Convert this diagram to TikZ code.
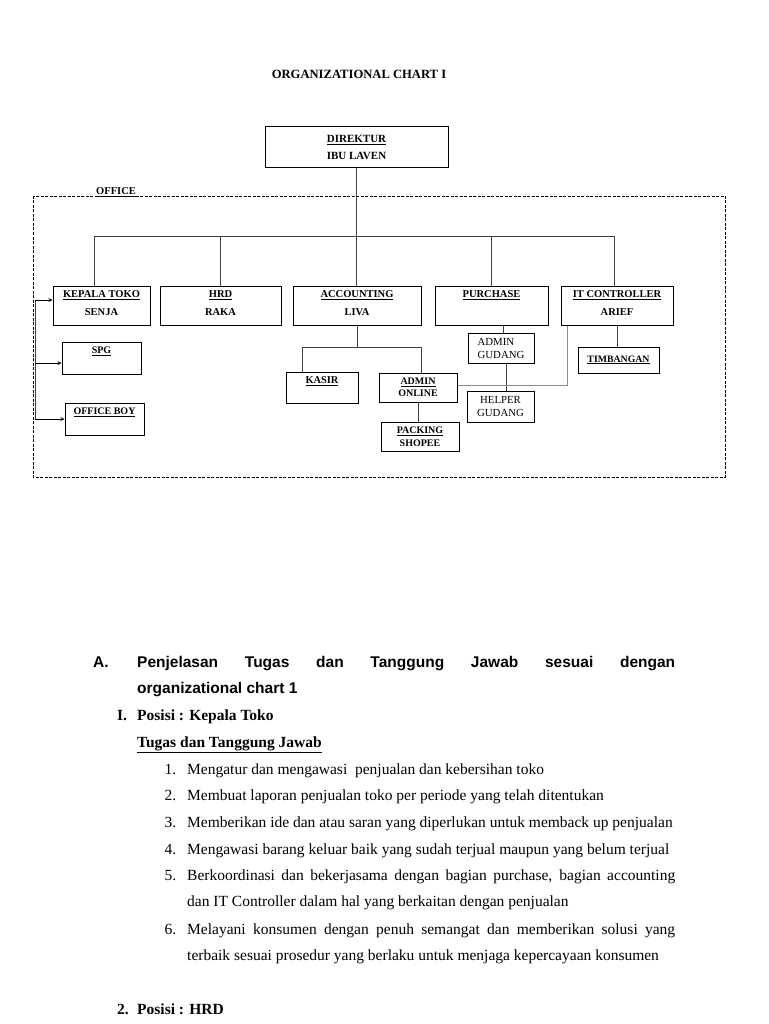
\documentclass[tikz,border=0pt]{standalone}
\usepackage{fontspec}
\setmainfont{Liberation Serif}
\newfontfamily\headfont{Liberation Sans}
\usetikzlibrary{arrows, positioning}
\tikzstyle{arrow} = [line width=0.8pt,->,>=stealth]
\tikzstyle{link} = [line width=0.8pt, draw=black!75]
\tikzstyle{post} = [rectangle, draw=black, line width=1pt, inner sep=0pt, align=center, font=\fontsize{10.5}{18}\selectfont\bfseries]
\tikzstyle{staff} = [post, font=\fontsize{10}{12}\selectfont\bfseries]
\tikzstyle{plain} = [post, font=\fontsize{10.8}{13}\selectfont]
\tikzstyle{body} = [anchor=base west, inner sep=0pt, font=\fontsize{15.5}{26.6}\selectfont]
\tikzstyle{bodybold} = [body, font=\fontsize{15.5}{26.6}\selectfont\bfseries]
\tikzstyle{itemtext} = [body, text width=488pt, align=justify]

\begin{document}
\begin{tikzpicture}[x=1pt, y={(0pt,-1pt)}]
\useasboundingbox (0,0) rectangle (768,1024);

% Title and office frame
\node (title) [font=\fontsize{12.6}{14}\selectfont\bfseries] at (359,74) {ORGANIZATIONAL CHART I};
\draw [line width=0.8pt, dash pattern=on 3pt off 1.5pt] (33,196) rectangle (725,477);
\node (office) [inner sep=0pt, anchor=base, font=\fontsize{10.5}{12}\selectfont\bfseries] at (116,195) {\underline{OFFICE}};

% Placement of chart nodes
\node (dir) [post, minimum width=183pt, minimum height=41pt, font=\fontsize{11}{17}\selectfont\bfseries] at (356.5,147.5) {\underline{DIREKTUR}\\IBU LAVEN};

\node (kep) [post, minimum width=97pt, minimum height=39pt, text depth=5pt] at (101.5,305.5) {\underline{KEPALA TOKO}\\SENJA};
\node (hrd) [post, minimum width=121pt, minimum height=39pt, text depth=5pt] at (220.5,305.5) {\underline{HRD}\\RAKA};
\node (acc) [post, minimum width=128pt, minimum height=39pt, text depth=5pt] at (357,305.5) {\underline{ACCOUNTING}\\LIVA};
\node (pur) [post, minimum width=113pt, minimum height=39pt, text depth=5pt] at (491.5,305.5) {\underline{PURCHASE}\\ \mbox{}};
\node (itc) [post, minimum width=112pt, minimum height=39pt, text depth=5pt] at (617,305.5) {\underline{IT CONTROLLER}\\ARIEF};

\node (spg) [post, minimum width=79pt, minimum height=32pt, font=\fontsize{10}{16}\selectfont\bfseries] at (101.5,358) {\underline{SPG}\\ \mbox{}};
\node (ob) [post, minimum width=79pt, minimum height=32pt, font=\fontsize{10}{16}\selectfont\bfseries] at (104.5,419) {\underline{OFFICE BOY}\\ \mbox{}};

\node (kasir) [post, minimum width=72pt, minimum height=31pt, font=\fontsize{10.4}{14}\selectfont\bfseries] at (322,387.5) {\underline{KASIR}\\ \mbox{}};
\node (adon) [staff, minimum width=78pt, minimum height=29pt] at (418,387.5) {\underline{ADMIN}\\ONLINE};
\node (pack) [staff, minimum width=78pt, minimum height=29pt, font=\fontsize{10}{13}\selectfont\bfseries] at (420,436.5) {\underline{PACKING}\\SHOPEE};

\node (adgud) [plain, minimum width=66pt, minimum height=30pt, align=left] at (501,348) {ADMIN\\GUDANG};
\node (helper) [plain, minimum width=67pt, minimum height=31pt] at (500.5,406.5) {HELPER\\GUDANG};
\node (timb) [post, minimum width=81pt, minimum height=26pt, font=\fontsize{9.8}{12}\selectfont\bfseries] at (618.5,360) {\underline{TIMBANGAN}};

% Drawing of lines of main chart
\coordinate (bus) at (0,236);
\coordinate (kepIn) at ([xshift=-7.5pt]kep.north);
\coordinate (itcIn) at ([xshift=-3pt]itc.north);
\draw [link] (dir.south) -- (dir.south |- acc.north);
\draw [link] (kepIn) |- (bus -| itcIn) -- (itcIn);
\draw [link] (hrd.north) -- (hrd.north |- bus);
\draw [link] (pur.north) -- (pur.north |- bus);

% Accounting branch
\draw [link] (acc.south) -- ++(0,22) coordinate (accBus);
\coordinate (kasIn) at ([xshift=-20pt]kasir.north);
\coordinate (adoIn) at ([xshift=3pt]adon.north);
\draw [link] (kasIn) |- (accBus) -| (adoIn);
\draw [link] (adon.south) -- (adon.south |- pack.north);

% Purchase and IT branch
\coordinate (gudTop) at ([xshift=2pt]adgud.north);
\draw [link] (gudTop |- pur.south) -- (gudTop);
\coordinate (helTop) at ([xshift=5.5pt]helper.north);
\draw [link] (helTop |- adgud.south) -- (helTop);
\coordinate (itcOut) at ([xshift=7pt]itc.south west);
\draw [link, draw=black!45] (itcOut) |- ([yshift=2.5pt]adon.east);
\draw [link] (itc.south) -- (itc.south |- timb.north);

% Left bracket arrows
\coordinate (brkTop) at (35,300);
\coordinate (brkBot) at (35,419);
\coordinate (spgIn) at ([yshift=-5pt]spg.west);
\draw [link] (brkTop) -- (brkBot);
\draw [arrow] (brkTop) -- (brkTop -| kep.west);
\draw [arrow] (brkTop |- spgIn) -- (spgIn);
\draw [arrow] (brkBot) -- (brkBot -| ob.west);

% Description text
\node (secA) [body, font=\fontsize{15.5}{26.6}\selectfont\headfont\bfseries] at (93,667) {A.};
\node (secAtext) [body, text width=538pt, align=justify, font=\fontsize{15.5}{26.6}\selectfont\headfont\bfseries] at (137,667) {Penjelasan Tugas dan Tanggung Jawab sesuai dengan\linebreak organizational chart 1};
\node (pos1) [bodybold] at (117,720) {\makebox[20pt][l]{I.}Posisi : Kepala Toko};
\node (tugas1) [bodybold] at (137,747) {\underline{Tugas dan Tanggung Jawab}};

\node (item1) [itemtext] at (187,774) {\makebox[0pt][r]{1.\hspace{11pt}}Mengatur dan mengawasi\ \ penjualan dan kebersihan toko};
\node (item2) [itemtext] at (187,800) {\makebox[0pt][r]{2.\hspace{11pt}}Membuat laporan penjualan toko per periode yang telah ditentukan};
\node (item3) [itemtext] at (187,827) {\makebox[0pt][r]{3.\hspace{11pt}}Memberikan ide dan atau saran yang diperlukan untuk memback up penjualan};
\node (item4) [itemtext] at (187,854) {\makebox[0pt][r]{4.\hspace{11pt}}Mengawasi barang keluar baik yang sudah terjual maupun yang belum terjual};
\node (item5) [itemtext] at (187,880) {\makebox[0pt][r]{5.\hspace{11pt}}Berkoordinasi dan bekerjasama dengan bagian purchase, bagian accounting\linebreak dan IT Controller dalam hal yang berkaitan dengan penjualan};
\node (item6) [itemtext] at (187,934) {\makebox[0pt][r]{6.\hspace{11pt}}Melayani konsumen dengan penuh semangat dan memberikan solusi yang\linebreak terbaik sesuai prosedur yang berlaku untuk menjaga kepercayaan konsumen};

\node (pos2) [bodybold] at (117,1014) {\makebox[20pt][l]{2.}Posisi : HRD};

\end{tikzpicture}
\end{document}
